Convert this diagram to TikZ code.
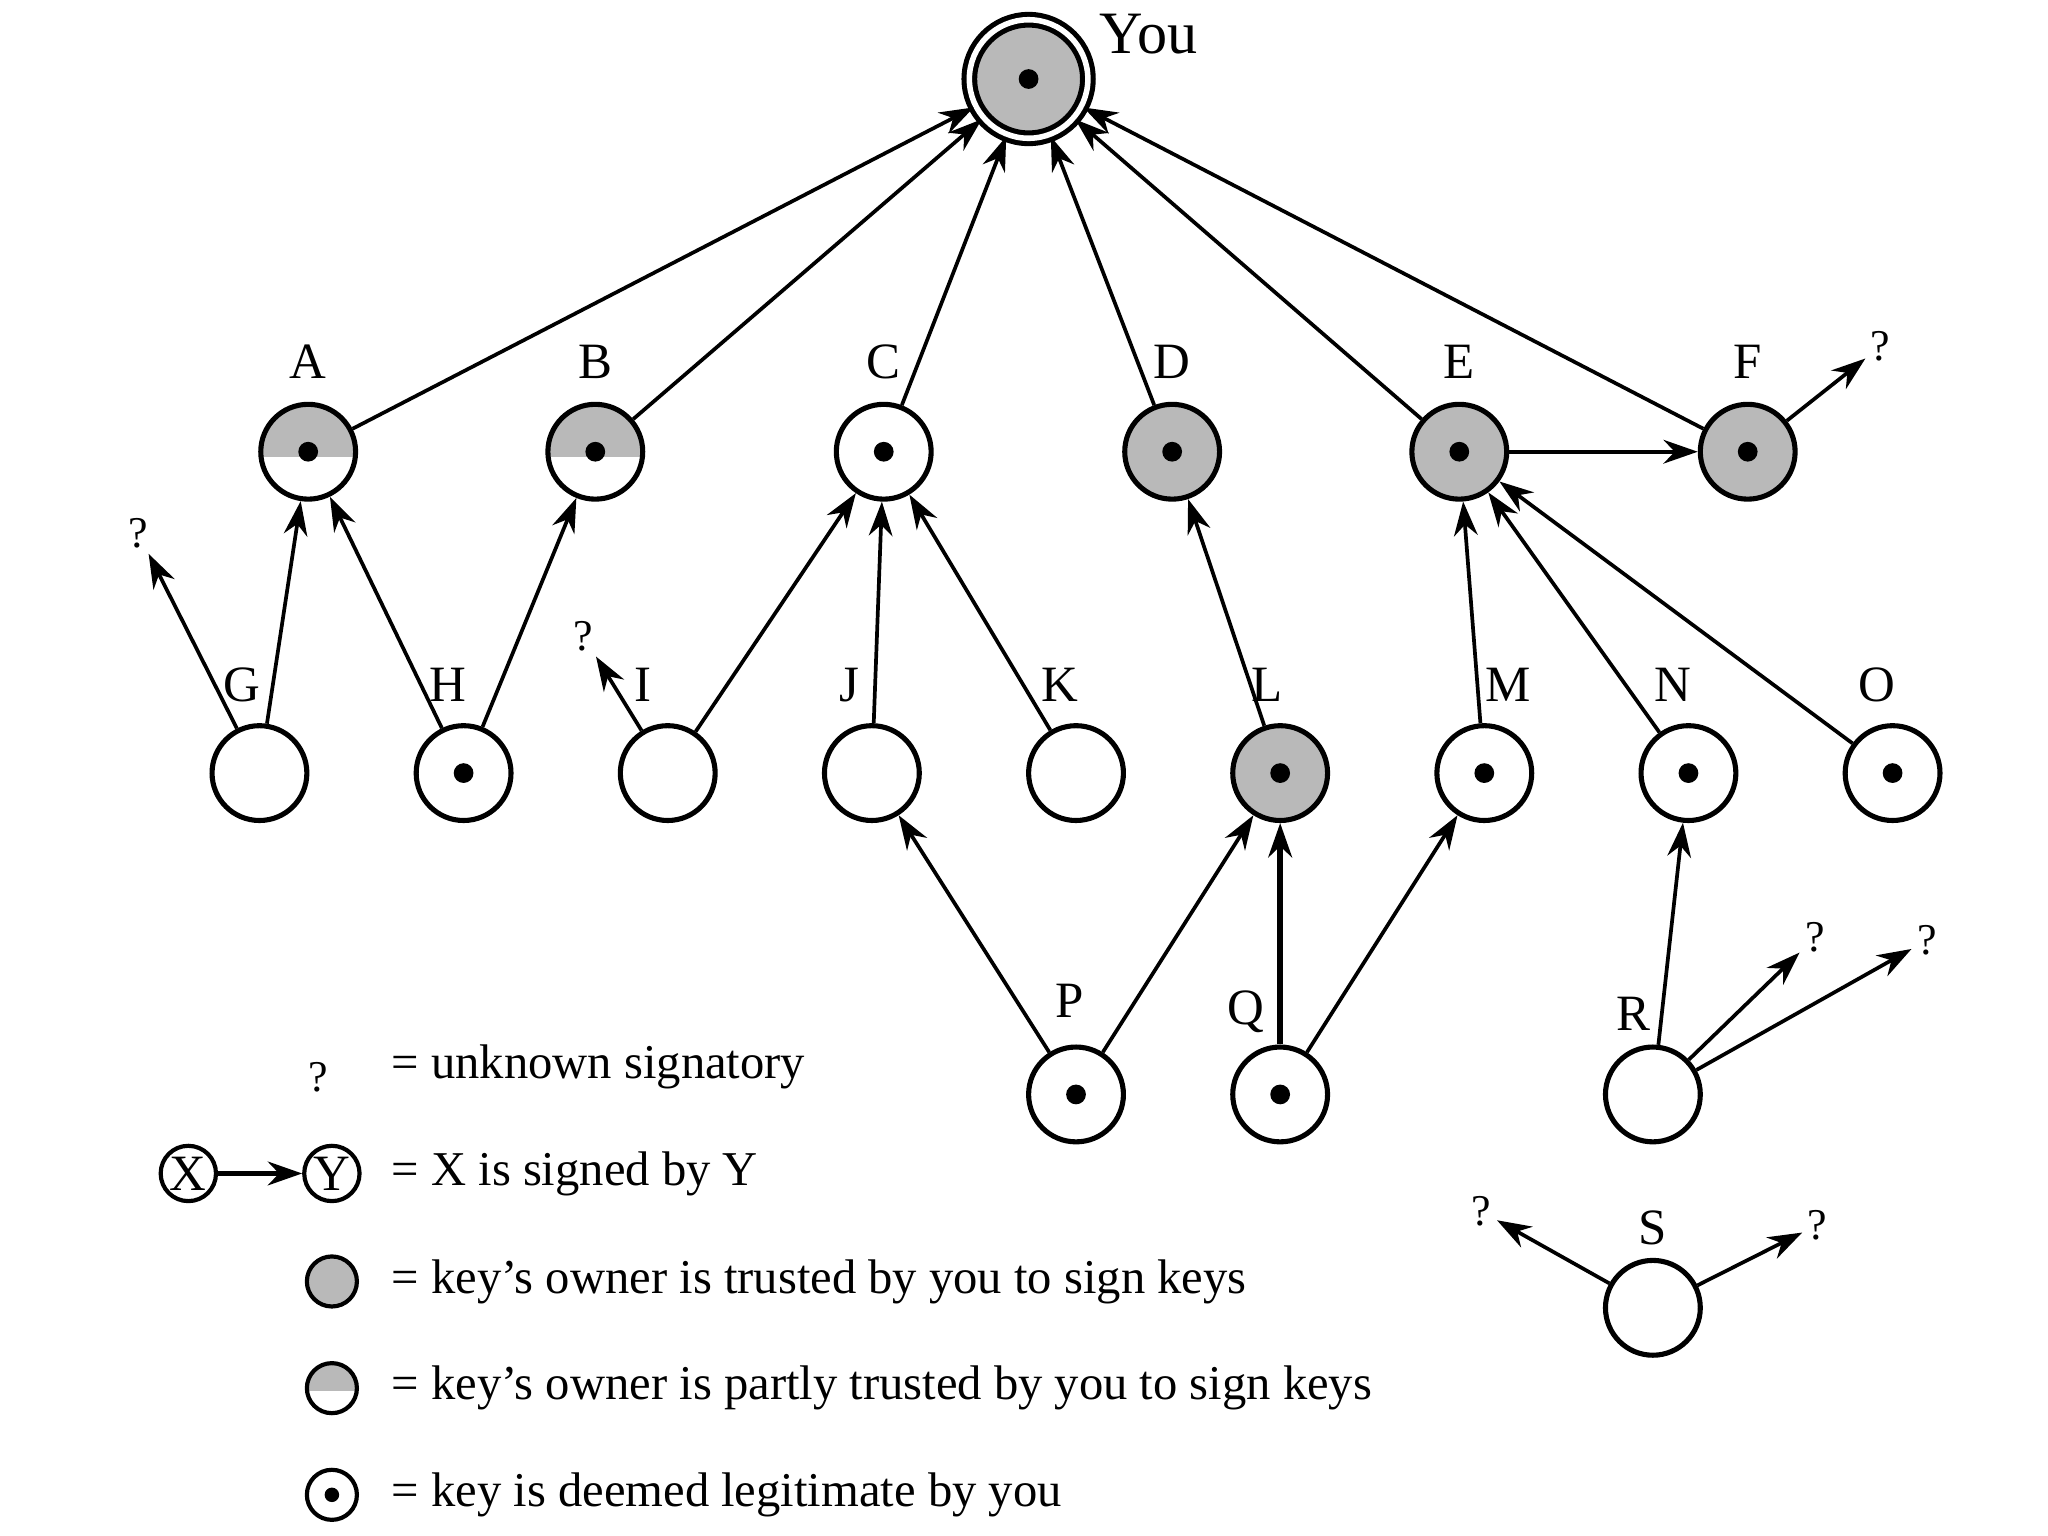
\documentclass[tikz,border=0pt]{standalone}
\usepackage{fontspec}
\setmainfont{Liberation Serif}
\usetikzlibrary{arrows.meta, positioning}

\tikzset{
    key/.style={circle, draw, line width=1.1pt, minimum size=0.72cm, inner sep=0pt},
    trusted/.style={key, fill=gray!55},
    legit/.style={path picture={\fill[black] (path picture bounding box.center) circle (0.075);}},
    partly/.style={key, path picture={
        \fill[gray!55] ([yshift=-0.04cm]path picture bounding box.west) rectangle (path picture bounding box.north east);
        \fill[black] (path picture bounding box.center) circle (0.075);}},
    sig/.style={-{Stealth[length=2.6mm,width=1.8mm]}, line width=0.8pt},
    lbl/.style={font=\fontsize{11}{13}\selectfont},
    unk/.style={font=\fontsize{9.5}{11}\selectfont, inner sep=1pt},
    legend/.style={font=\fontsize{10.5}{13}\selectfont, anchor=west}
}

\begin{document}
\begin{tikzpicture}[x=1cm, y=1cm]
    \useasboundingbox (0,0) rectangle (15.55,11.66);

    % You
    \node[circle, draw, line width=1.1pt, minimum size=0.9cm, fill=gray!55, legit,
          double=white, double distance=1.2pt] (you) at (7.81,11.06) {};
    \node[font=\fontsize{13}{15}\selectfont] at (8.72,11.40) {You};

    % first row
    \node[partly] (A) at (2.34,8.23) {};
    \node[partly] (B) at (4.52,8.23) {};
    \node[key, legit] (C) at (6.71,8.23) {};
    \node[trusted, legit] (D) at (8.90,8.23) {};
    \node[trusted, legit] (E) at (11.08,8.23) {};
    \node[trusted, legit] (F) at (13.27,8.23) {};

    % second row
    \node[key] (G) at (1.97,5.79) {};
    \node[key, legit] (H) at (3.52,5.79) {};
    \node[key] (I) at (5.07,5.79) {};
    \node[key] (J) at (6.62,5.79) {};
    \node[key] (K) at (8.17,5.79) {};
    \node[trusted, legit] (L) at (9.72,5.79) {};
    \node[key, legit] (M) at (11.27,5.79) {};
    \node[key, legit] (N) at (12.82,5.79) {};
    \node[key, legit] (O) at (14.37,5.79) {};

    % third row
    \node[key, legit] (P) at (8.17,3.35) {};
    \node[key, legit] (Q) at (9.72,3.35) {};
    \node[key] (R) at (12.55,3.35) {};
    \node[key] (S) at (12.55,1.73) {};

    % labels
    \foreach \n/\x/\y in {A/2.34/8.91, B/4.52/8.91, C/6.71/8.91, D/8.90/8.91, E/11.08/8.91, F/13.27/8.91,
        G/1.84/6.46, H/3.40/6.46, I/4.88/6.46, J/6.45/6.46, K/8.05/6.46, L/9.62/6.46, M/11.45/6.46,
        N/12.70/6.46, O/14.25/6.46, P/8.12/4.06, Q/9.46/3.98, R/12.40/3.96, S/12.55/2.34}
        \node[lbl] at (\x,\y) {\n};

    % unknown signatories
    \node[unk] (qg) at (1.05,7.61) {?};
    \node[unk] (qf) at (14.28,9.03) {?};
    \node[unk] (qi) at (4.43,6.83) {?};
    \node[unk] (qr1) at (13.78,4.54) {?};
    \node[unk] (qr2) at (14.63,4.52) {?};
    \node[unk] (qs1) at (11.25,2.46) {?};
    \node[unk] (qs2) at (13.80,2.36) {?};

    % signatures
    \foreach \a/\b in {A/you, B/you, C/you, D/you, E/you, F/you, E/F, G/A, H/A, H/B,
        I/C, J/C, K/C, L/D, M/E, N/E, O/E, P/J, P/L, Q/M, R/N,
        G/qg, F/qf, I/qi, R/qr1, R/qr2, S/qs1, S/qs2}
        \draw[sig] (\a) -- (\b);
    \draw[sig, line width=1.4pt] (Q) -- (L);

    % legend
    \node[unk] at (2.42,3.48) {?};
    \node[legend] at (2.85,3.56) {= unknown signatory};
    \node[circle, draw, line width=0.9pt, minimum size=0.42cm, inner sep=0pt, font=\fontsize{11}{13}\selectfont] (lx) at (1.43,2.75) {X};
    \node[circle, draw, line width=0.9pt, minimum size=0.42cm, inner sep=0pt, font=\fontsize{11}{13}\selectfont] (ly) at (2.52,2.75) {Y};
    \draw[sig, line width=1.1pt] (lx) -- (ly);
    \node[legend] at (2.85,2.75) {= X is signed by Y};
    \node[circle, draw, line width=0.9pt, minimum size=0.38cm, fill=gray!55] at (2.52,1.93) {};
    \node[legend] at (2.85,1.93) {= key's owner is trusted by you to sign keys};
    \node[circle, draw, line width=0.9pt, minimum size=0.38cm, path picture={
        \fill[gray!55] ([yshift=-0.02cm]path picture bounding box.west) rectangle (path picture bounding box.north east);}] at (2.52,1.12) {};
    \node[legend] at (2.85,1.12) {= key's owner is partly trusted by you to sign keys};
    \node[circle, draw, line width=0.9pt, minimum size=0.38cm, path picture={
        \fill[black] (path picture bounding box.center) circle (0.055);}] at (2.52,0.31) {};
    \node[legend] at (2.85,0.31) {= key is deemed legitimate by you};
\end{tikzpicture}
\end{document}
